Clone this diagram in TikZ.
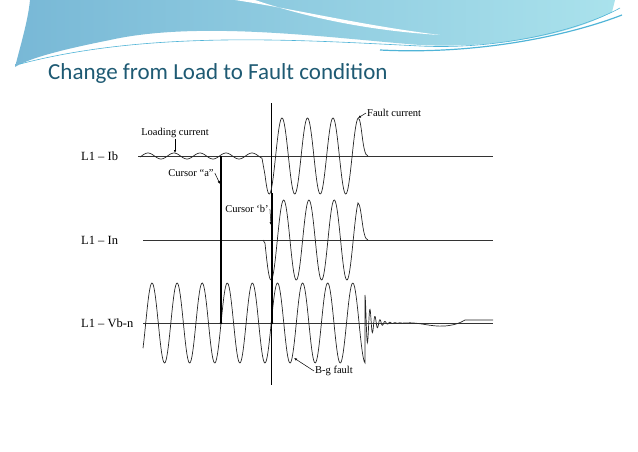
\documentclass[tikz,border=0pt]{standalone}
\usepackage{fontspec}
\setmainfont{Liberation Serif}
\newfontfamily\titlefont{Carlito}
\usetikzlibrary{arrows.meta}
\definecolor{hdrL}{RGB}{120,184,214}
\definecolor{hdrR}{RGB}{170,226,236}
\definecolor{hdrLine}{RGB}{80,180,215}
\definecolor{ttl}{RGB}{30,90,115}
\begin{document}
\begin{tikzpicture}[x=1pt,y=-1pt,
  lbl/.style={font=\fontsize{10.5}{12}\selectfont, inner sep=1pt},
  axl/.style={font=\fontsize{12.5}{14}\selectfont, inner sep=1pt},
  wave/.style={line width=0.7pt, black!85},
  base/.style={line width=0.6pt, black!80},
  cur/.style={line width=1.4pt, black},
  ptr/.style={line width=0.5pt, -{Latex[length=3pt,width=2.5pt]}}]
\useasboundingbox (0,0) rectangle (638,451);
% header decoration
\shade[left color=hdrL, right color=hdrR]
  (30,0) -- (615,0) -- (612,12) .. controls (560,40) and (480,48) .. (420,45)
  .. controls (330,38) and (200,20) .. (110,40) .. controls (60,50) and (30,58) .. (15,67)
  .. controls (22,40) and (28,20) .. (30,0) -- cycle;
\fill[white] (235,0) .. controls (300,10) and (360,25) .. (440,35)
  .. controls (360,30) and (300,15) .. (255,0) -- cycle;
\fill[white,opacity=0.6] (15,67) .. controls (120,40) and (220,30) .. (330,38)
  .. controls (220,36) and (120,45) .. (15,67) -- cycle;
\draw[hdrLine,line width=0.6pt] (20,64) .. controls (150,30) and (300,40) .. (420,46) .. controls (500,50) and (580,30) .. (620,8);
\draw[hdrLine,line width=1.2pt] (380,50) .. controls (480,55) and (570,35) .. (622,15);
\node[anchor=base west, inner sep=0, text=ttl, font=\titlefont\fontsize{23}{26}\selectfont] (title) at (48,79) {Change from Load to Fault condition};
% baselines
\draw[base] (138,156) -- (493,156);
\draw[base] (143,240) -- (493,240);
\draw[base] (143,323) -- (493,323);
\coordinate (vt) at (271,103); \coordinate (vb) at (271,385);
\draw[line width=0.5pt] (vt) -- (vb);
% L1-Ib
\draw[wave] plot[domain=140:262,samples=80] (\x,{156-3*cos((\x-148)*13.846)})
  -- plot[domain=265:358,samples=150] (\x,{156-38*cos((\x-282)*14.118)})
  .. controls (362,117) and (362,156) .. (368,156);
% L1-In
\draw[wave] (263,240) -- plot[domain=265:358,samples=150] (\x,{240+40*cos((\x-271)*14.229)})
  .. controls (362,205) and (362,240) .. (368,240);
% L1-Vb-n
\draw[wave] plot[domain=143:365,samples=300] (\x,{323-40*cos((\x-152)*14.343)})
  -- plot[domain=365:405,samples=120] (\x,{323-28*exp(-(\x-365)/7)*cos((\x-365)*72)})
  .. controls (420,322) and (430,327) .. (445,326) .. controls (455,325) and (460,323) .. (465,320) -- (493,320);
% cursors
\coordinate (ca1) at (221,156); \coordinate (ca2) at (221,323);
\coordinate (cb1) at (272,193); \coordinate (cb2) at (272,323);
\draw[cur] (ca1) -- (ca2);
\draw[cur] (cb1) -- (cb2);
\fill (ca2) circle (1.3pt); \fill (cb2) circle (1.3pt);
% labels
\node[axl,anchor=west] (lib) at (80,156) {L1 -- Ib};
\node[axl,anchor=west] (lin) at (80,240) {L1 -- In};
\node[axl,anchor=west] (lvb) at (80,323) {L1 -- Vb-n};
\node[lbl] (load) at (175,133) {Loading current};
\coordinate (loadp) at (175,153);
\draw[ptr] (load.south) -- (loadp);
\node[lbl,anchor=west] (fault) at (366,113) {Fault current};
\coordinate (faultp) at (358,118);
\draw[ptr] (fault.west) -- (faultp);
\node[lbl] (cua) at (191,173) {Cursor ``a''};
\coordinate (cuap) at (220,184);
\draw[ptr] (cua.east) -- (cuap);
\node[lbl] (cub) at (247,209) {Cursor `b'};
\coordinate (cubp) at (271,225);
\draw[ptr] (cub.east) -- (cubp);
\node[lbl] (bg) at (334,371) {B-g fault};
\coordinate (bgp) at (294,358);
\draw[ptr] (bg.west) -- (bgp);
\end{tikzpicture}
\end{document}
